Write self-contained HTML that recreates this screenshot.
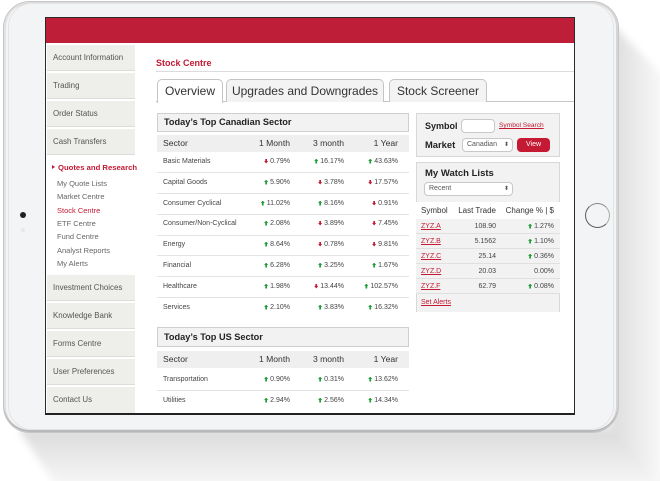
<!DOCTYPE html>
<html><head><meta charset="utf-8"><style>
*{margin:0;padding:0;box-sizing:border-box}
body{width:660px;height:481px;background:#fff;position:relative;overflow:hidden;font-family:"Liberation Sans",sans-serif;color:#333}
.a{position:absolute}
.sb{position:absolute;left:47px;width:88px;height:26px;background:#eeeeeb;border-bottom:1px solid #dcdcd8;font-size:7.9px;color:#555;line-height:26px;padding-left:6px}
.sub{position:absolute;left:57px;font-size:7.5px;color:#666;line-height:10px}
.tab{position:absolute;top:79px;height:23px;border:1px solid #c4c4c4;border-bottom:none;border-radius:5px 5px 0 0;background:#f3f3f3;font-size:12px;line-height:23px;color:#333;text-align:center}
.hb{position:absolute;left:157px;width:252px;background:#f2f2f2;border:1px solid #cfcfcf;font-size:9.2px;font-weight:bold;color:#222;padding-left:6px}
.ch{position:absolute;left:157px;width:252px;background:#efefef;font-size:8.6px;color:#333}
.r{position:absolute;left:157px;width:252px;height:20px;line-height:20px;font-size:7px;color:#444}
.r span,.ch span{position:absolute;white-space:nowrap}
.c0{left:6px}.c1{right:119px}.c2{right:65px}.c3{right:11px}
.sep{position:absolute;left:157px;width:252px;height:1px;background:#e3e3e3}
i.u,i.d{display:inline-block;width:4px;height:5px;margin-right:2px;vertical-align:-0.5px}
i.u{background:#1f9d36;clip-path:polygon(50% 0,100% 50%,72% 50%,72% 100%,28% 100%,28% 50%,0 50%)}
i.d{background:#c41a33;clip-path:polygon(50% 100%,100% 50%,72% 50%,72% 0,28% 0,28% 50%,0 50%)}
.wr{position:absolute;left:416px;width:144px;height:15px;line-height:15px;font-size:7px;color:#444;background:#f2f2f2;border-bottom:1px solid #e0e0e0}
.wr span{position:absolute;white-space:nowrap}
.lk{color:#c41a33;text-decoration:underline}
</style></head><body>

<!-- shadow -->
<svg class="a" style="left:0;top:0" width="660" height="481">
<defs>
<linearGradient id="gb" x1="0" y1="0" x2="0" y2="1"><stop offset="0" stop-color="#dadada"/><stop offset="1" stop-color="#fcfcfc"/></linearGradient>
<linearGradient id="gr" x1="0" y1="0" x2="1" y2="0"><stop offset="0" stop-color="#dcdcdc"/><stop offset="1" stop-color="#fafafa"/></linearGradient>
<filter id="bl"><feGaussianBlur stdDeviation="4"/></filter>
</defs>
<polygon points="18,428 620,428 675,495 62,495" fill="url(#gb)" filter="url(#bl)"/>
<polygon points="610,22 665,78 665,490 610,432" fill="url(#gr)" filter="url(#bl)"/>
</svg>

<!-- tablet body -->
<div class="a" style="left:3px;top:1px;width:616px;height:432px;border-radius:27px;background:#f3f4f6;border:1px solid #c6c6c6;box-shadow:inset 0 -2px 0 #b8b8b8,inset -2px 0 0 #d6d6d6,inset 2px 0 0 #e2e2e2,inset 0 2px 0 #dcdcdc"></div>
<div class="a" style="left:8px;top:3px;width:606px;height:427px;border-radius:24px;border:1px solid #e4e4e6"></div>
<!-- camera -->
<div class="a" style="left:20px;top:212px;width:6px;height:6px;border-radius:50%;background:#222"></div>
<div class="a" style="left:21px;top:228px;width:4px;height:4px;border-radius:50%;background:#e6e7ea"></div>
<!-- home button -->
<div class="a" style="left:585px;top:203px;width:25px;height:25px;border-radius:50%;border:1.5px solid #5a5a5a;border-top-color:#888;border-right-color:#aaa"></div>

<!-- screen -->
<div class="a" style="left:45px;top:17px;width:530px;height:398px;background:#fff;border:1px solid #2a2a2a;border-bottom:2px solid #222"></div>
<div class="a" style="left:46px;top:18px;width:528px;height:25px;background:#be1e37"></div>

<!-- sidebar -->
<div class="sb" style="top:45px">Account Information</div>
<div class="sb" style="top:73px">Trading</div>
<div class="sb" style="top:101px">Order Status</div>
<div class="sb" style="top:129px">Cash Transfers</div>
<div class="a" style="left:52px;top:165px;width:0;height:0;border-left:3px solid #c41a33;border-top:2.5px solid transparent;border-bottom:2.5px solid transparent"></div>
<div class="a" style="left:58px;top:163px;font-size:7.7px;font-weight:bold;color:#c41a33;line-height:10px">Quotes and Research</div>
<div class="sub" style="top:179px">My Quote Lists</div>
<div class="sub" style="top:192px">Market Centre</div>
<div class="sub" style="top:206px;color:#c41a33">Stock Centre</div>
<div class="sub" style="top:219px">ETF Centre</div>
<div class="sub" style="top:232px">Fund Centre</div>
<div class="sub" style="top:246px">Analyst Reports</div>
<div class="sub" style="top:259px">My Alerts</div>
<div class="sb" style="top:275px">Investment Choices</div>
<div class="sb" style="top:303px">Knowledge Bank</div>
<div class="sb" style="top:331px">Forms Centre</div>
<div class="sb" style="top:359px">User Preferences</div>
<div class="sb" style="top:387px;height:26px;border-bottom:none">Contact Us</div>

<!-- main title -->
<div class="a" style="left:156px;top:57px;font-size:9px;font-weight:bold;color:#c41a33;line-height:12px">Stock Centre</div>
<div class="a" style="left:156px;top:71px;width:418px;height:1px;background:#dcdcdc"></div>

<!-- tabs -->
<div class="a" style="left:156px;top:101px;width:418px;height:1px;background:#c8c8c8"></div>
<div class="tab" style="left:157px;width:66px;background:#fff;height:24px">Overview</div>
<div class="tab" style="left:226px;width:158px">Upgrades and Downgrades</div>
<div class="tab" style="left:389px;width:98px">Stock Screener</div>

<!-- Canadian table -->
<div class="hb" style="top:113px;height:19px;line-height:17px">Today’s Top Canadian Sector</div>
<div class="ch" style="top:135px;height:17px;line-height:17px"><span class="c0">Sector</span><span class="c1">1 Month</span><span class="c2">3 month</span><span class="c3">1 Year</span></div>

<div class="r" style="top:152px"><span class="c0">Basic Materials</span><span class="c1"><i class="d"></i>0.79%</span><span class="c2"><i class="u"></i>16.17%</span><span class="c3"><i class="u"></i>43.63%</span></div>
<div class="sep" style="top:172px"></div>
<div class="r" style="top:173px"><span class="c0">Capital Goods</span><span class="c1"><i class="u"></i>5.90%</span><span class="c2"><i class="d"></i>3.78%</span><span class="c3"><i class="d"></i>17.57%</span></div>
<div class="sep" style="top:193px"></div>
<div class="r" style="top:194px"><span class="c0">Consumer Cyclical</span><span class="c1"><i class="u"></i>11.02%</span><span class="c2"><i class="u"></i>8.16%</span><span class="c3"><i class="d"></i>0.91%</span></div>
<div class="sep" style="top:214px"></div>
<div class="r" style="top:214px"><span class="c0">Consumer/Non-Cyclical</span><span class="c1"><i class="u"></i>2.08%</span><span class="c2"><i class="d"></i>3.89%</span><span class="c3"><i class="d"></i>7.45%</span></div>
<div class="sep" style="top:235px"></div>
<div class="r" style="top:235px"><span class="c0">Energy</span><span class="c1"><i class="u"></i>8.64%</span><span class="c2"><i class="d"></i>0.78%</span><span class="c3"><i class="d"></i>9.81%</span></div>
<div class="sep" style="top:255px"></div>
<div class="r" style="top:256px"><span class="c0">Financial</span><span class="c1"><i class="u"></i>6.28%</span><span class="c2"><i class="u"></i>3.25%</span><span class="c3"><i class="u"></i>1.67%</span></div>
<div class="sep" style="top:276px"></div>
<div class="r" style="top:277px"><span class="c0">Healthcare</span><span class="c1"><i class="u"></i>1.98%</span><span class="c2"><i class="d"></i>13.44%</span><span class="c3"><i class="u"></i>102.57%</span></div>
<div class="sep" style="top:297px"></div>
<div class="r" style="top:298px"><span class="c0">Services</span><span class="c1"><i class="u"></i>2.10%</span><span class="c2"><i class="u"></i>3.83%</span><span class="c3"><i class="u"></i>16.32%</span></div>

<!-- US table -->
<div class="hb" style="top:327px;height:20px;line-height:18px">Today’s Top US Sector</div>
<div class="ch" style="top:351px;height:17px;line-height:17px"><span class="c0">Sector</span><span class="c1">1 Month</span><span class="c2">3 month</span><span class="c3">1 Year</span></div>
<div class="r" style="top:370px"><span class="c0">Transportation</span><span class="c1"><i class="u"></i>0.90%</span><span class="c2"><i class="u"></i>0.31%</span><span class="c3"><i class="u"></i>13.62%</span></div>
<div class="sep" style="top:390px"></div>
<div class="r" style="top:391px"><span class="c0">Utilities</span><span class="c1"><i class="u"></i>2.94%</span><span class="c2"><i class="u"></i>2.56%</span><span class="c3"><i class="u"></i>14.34%</span></div>

<!-- Symbol box -->
<div class="a" style="left:416px;top:113px;width:144px;height:44px;background:#f2f2f2;border:1px solid #d8d8d8"></div>
<div class="a" style="left:425px;top:120px;font-size:9px;font-weight:bold;color:#222;line-height:12px">Symbol</div>
<div class="a" style="left:461px;top:119px;width:34px;height:14px;background:#fff;border:1px solid #c8c8c8;border-radius:4px"></div>
<div class="a lk" style="left:499px;top:122px;font-size:6.6px;line-height:8px">Symbol Search</div>
<div class="a" style="left:425px;top:139px;font-size:9.4px;font-weight:bold;color:#222;line-height:12px">Market</div>
<div class="a" style="left:462px;top:138px;width:51px;height:14px;background:#fff;border:1px solid #c8c8c8;border-radius:4px;font-size:7px;color:#555;line-height:12px;padding-left:4px">Canadian <span style="position:absolute;right:3px;font-size:6px">⬍</span></div>
<div class="a" style="left:517px;top:138px;width:33px;height:14px;background:#c41a33;border-radius:4px;color:#fff;font-size:7px;line-height:14px;text-align:center">View</div>

<!-- Watch lists -->
<div class="a" style="left:416px;top:162px;width:144px;height:150px;background:#f2f2f2;border:1px solid #d8d8d8;border-bottom:none"></div>
<div class="a" style="left:425px;top:167px;font-size:9.5px;font-weight:bold;color:#222;line-height:13px">My Watch Lists</div>
<div class="a" style="left:424px;top:182px;width:89px;height:14px;background:#fff;border:1px solid #c8c8c8;border-radius:4px;font-size:7px;color:#555;line-height:12px;padding-left:4px">Recent<span style="position:absolute;right:3px;font-size:6px">⬍</span></div>
<div class="a" style="left:416px;top:202px;width:144px;height:18px;background:#fff;border-bottom:1px solid #dedede;font-size:8px;color:#333;line-height:18px">
<span class="a" style="left:5px">Symbol</span><span class="a" style="right:64px">Last Trade</span><span class="a" style="right:6px">Change % | $</span></div>
<div class="wr" style="top:219px"><span class="lk" style="left:5px">ZYZ.A</span><span style="right:64px">108.90</span><span style="right:6px"><i class="u"></i>1.27%</span></div>
<div class="wr" style="top:234px"><span class="lk" style="left:5px">ZYZ.B</span><span style="right:64px">5.1562</span><span style="right:6px"><i class="u"></i>1.10%</span></div>
<div class="wr" style="top:249px"><span class="lk" style="left:5px">ZYZ.C</span><span style="right:64px">25.14</span><span style="right:6px"><i class="u"></i>0.36%</span></div>
<div class="wr" style="top:264px"><span class="lk" style="left:5px">ZYZ.D</span><span style="right:64px">20.03</span><span style="right:6px">0.00%</span></div>
<div class="wr" style="top:279px"><span class="lk" style="left:5px">ZYZ.F</span><span style="right:64px">62.79</span><span style="right:6px"><i class="u"></i>0.08%</span></div>
<div class="a lk" style="left:421px;top:298px;font-size:7px;line-height:10px">Set Alerts</div>

</body></html>
